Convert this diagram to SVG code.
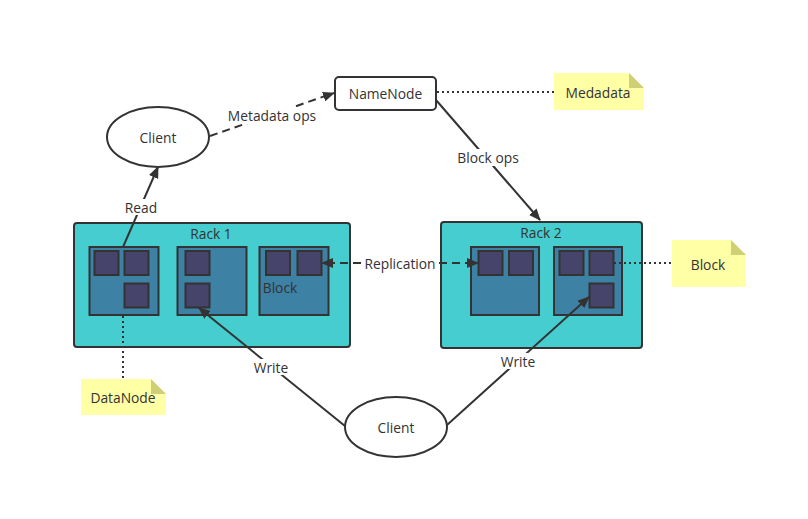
<svg xmlns="http://www.w3.org/2000/svg" width="808" height="519" viewBox="0 0 808 519">
<defs>
<marker id="ah" viewBox="0 0 12 10" refX="11" refY="5" markerWidth="12" markerHeight="10" markerUnits="userSpaceOnUse" orient="auto">
<path d="M0,0 L12,5 L0,10 Z" fill="#333"/>
</marker>
</defs>
<style>
text{font-family:"Open Sans","Noto Sans","DejaVu Sans",sans-serif;font-size:13.8px;fill:#333;text-anchor:middle;dominant-baseline:central}
.rack{fill:#46CDCF;stroke:#333;stroke-width:2}
.dn{fill:#3D81A5;stroke:#333;stroke-width:2}
.blk{fill:#47446B;stroke:#333;stroke-width:2}
.ell{fill:#fff;stroke:#333;stroke-width:2}
.note{fill:#FFFFA6}
.fold{fill:#CFCF78}
.ln{fill:none;stroke:#333;stroke-width:2}
.dash{stroke-dasharray:8 5}
.dot{stroke-dasharray:2 3}
.lbl{fill:#fff}
</style>
<rect width="808" height="519" fill="#fff"/>
<g id="rack1">
<rect class="rack" x="74" y="223" width="276" height="124" rx="3"/>
<text x="211" y="233">Rack 1</text>
<rect class="dn" x="89.5" y="247" width="69" height="68"/>
<rect class="blk" x="94.5" y="251" width="24" height="24"/>
<rect class="blk" x="124.5" y="251" width="24" height="24"/>
<rect class="blk" x="124.5" y="283.5" width="24" height="24"/>
<rect class="dn" x="177.5" y="247" width="69" height="68"/>
<rect class="blk" x="185.5" y="251" width="24" height="24"/>
<rect class="blk" x="185.5" y="283.5" width="24" height="24"/>
<rect class="dn" x="259.5" y="247" width="69" height="68"/>
<rect class="blk" x="266" y="251" width="24" height="24"/>
<rect class="blk" x="297.5" y="251" width="24" height="24"/>
<text x="280" y="287">Block</text>
</g>
<g id="rack2">
<rect class="rack" x="441" y="222" width="201" height="126" rx="3"/>
<text x="541" y="232">Rack 2</text>
<rect class="dn" x="471" y="247" width="68" height="68"/>
<rect class="blk" x="478.5" y="251" width="24" height="24"/>
<rect class="blk" x="509" y="251" width="24" height="24"/>
<rect class="dn" x="554" y="247" width="68" height="68"/>
<rect class="blk" x="559.5" y="251" width="24" height="24"/>
<rect class="blk" x="589.5" y="251" width="24" height="24"/>
<rect class="blk" x="589.5" y="283.5" width="24" height="24"/>
</g>
<g id="namenode">
<rect x="335" y="77" width="101" height="33" rx="4" fill="#fff" stroke="#333" stroke-width="2"/>
<text x="385.5" y="93">NameNode</text>
</g>
<g id="client-top">
<ellipse class="ell" cx="158" cy="137" rx="51" ry="30"/>
<text x="158" y="137">Client</text>
</g>
<g id="client-bottom">
<ellipse class="ell" cx="396" cy="427" rx="51" ry="30"/>
<text x="396" y="427">Client</text>
</g>
<g id="note-metadata">
<path class="note" d="M554,73 H629 L644,88 V110 H554 Z"/>
<path class="fold" d="M629,73 L644,88 H629 Z"/>
<text x="598" y="92">Medadata</text>
</g>
<g id="note-block">
<path class="note" d="M672,240 H731 L746,255 V287 H672 Z"/>
<path class="fold" d="M731,240 L746,255 H731 Z"/>
<text x="708" y="264">Block</text>
</g>
<g id="note-datanode">
<path class="note" d="M81,379 H151 L166,394 V415 H81 Z"/>
<path class="fold" d="M151,379 L166,394 H151 Z"/>
<text x="123" y="397">DataNode</text>
</g>
<g id="connectors">
<line class="ln dash" x1="210" y1="136" x2="334" y2="93" marker-end="url(#ah)"/>
<rect class="lbl" x="225" y="107" width="94" height="17"/>
<text x="272" y="115">Metadata ops</text>
<line class="ln" x1="436" y1="100" x2="540" y2="220" marker-end="url(#ah)"/>
<rect class="lbl" x="454" y="149" width="68" height="17"/>
<text x="488" y="157">Block ops</text>
<line class="ln dot" x1="437" y1="92" x2="554" y2="92"/>
<line class="ln dot" x1="614" y1="263" x2="672" y2="263"/>
<line class="ln dot" x1="123" y1="316" x2="123" y2="379"/>
<line class="ln" x1="123" y1="247" x2="158" y2="167" marker-end="url(#ah)"/>
<rect class="lbl" x="123" y="199" width="36" height="16"/>
<text x="141" y="207">Read</text>
<line class="ln dash" x1="400" y1="263" x2="322" y2="263" marker-end="url(#ah)"/>
<line class="ln dash" x1="400" y1="263" x2="478" y2="263" marker-end="url(#ah)"/>
<rect class="lbl" x="361" y="255" width="78" height="16"/>
<text x="400" y="263">Replication</text>
<line class="ln" x1="345" y1="426" x2="199" y2="308" marker-end="url(#ah)"/>
<rect class="lbl" x="251" y="359" width="40" height="16"/>
<text x="271" y="367">Write</text>
<line class="ln" x1="447" y1="425" x2="589" y2="297" marker-end="url(#ah)"/>
<rect class="lbl" x="498" y="353" width="40" height="16"/>
<text x="518" y="361">Write</text>
</g>
</svg>
